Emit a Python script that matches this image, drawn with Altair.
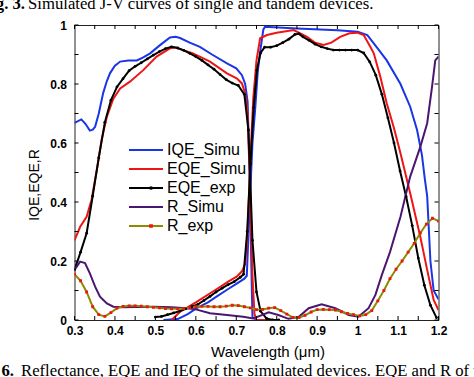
import altair as alt
import pandas as pd

# ---------------- data ----------------
series_names = ["IQE_Simu", "EQE_Simu", "EQE_exp", "R_Simu", "R_exp"]
line_colors = ["#1a35e6", "#f01414", "#000000", "#4b1670", "#8c8c00"]
marker_keys = ["m1", "m2", "m3", "m4", "m5"]
marker_fill = ["transparent", "transparent", "#000000", "transparent", "#f01414"]
marker_shape = ["circle", "circle", "circle", "circle", "square"]

iqe_top_x = [0.300, 0.317, 0.327, 0.338, 0.345, 0.351, 0.360, 0.371, 0.380, 0.388, 0.400, 0.413, 0.433,
             0.454, 0.470, 0.487, 0.510, 0.536, 0.550, 0.561, 0.585, 0.610, 0.640, 0.677, 0.700, 0.714,
             0.722, 0.728, 0.733, 0.737, 0.740, 0.750, 0.800]
iqe_top_y = [0.668, 0.680, 0.665, 0.642, 0.645, 0.655, 0.700, 0.770, 0.810, 0.837, 0.862, 0.876, 0.880,
             0.880, 0.890, 0.904, 0.930, 0.958, 0.960, 0.956, 0.940, 0.926, 0.900, 0.870, 0.853, 0.830,
             0.800, 0.740, 0.500, 0.200, 0.010, 0.000, 0.000]
iqe_bot_x = [0.520, 0.555, 0.580, 0.602, 0.630, 0.652, 0.680, 0.703, 0.720, 0.726, 0.732, 0.740, 0.747,
             0.753, 0.759, 0.767, 0.771, 0.850, 0.950, 1.000, 1.024, 1.040, 1.072, 1.106, 1.130, 1.147,
             1.159, 1.166, 1.172, 1.180, 1.188, 1.200]
iqe_bot_y = [0.000, 0.003, 0.020, 0.040, 0.060, 0.080, 0.105, 0.125, 0.140, 0.150, 0.350, 0.600, 0.720,
             0.840, 0.910, 0.985, 0.994, 0.988, 0.982, 0.977, 0.966, 0.938, 0.880, 0.800, 0.723, 0.644,
             0.560, 0.480, 0.420, 0.200, 0.100, 0.070]

eqs_top_x = [0.300, 0.314, 0.330, 0.342, 0.355, 0.367, 0.380, 0.396, 0.413, 0.437, 0.470, 0.503, 0.536,
             0.550, 0.569, 0.593, 0.635, 0.677, 0.701, 0.714, 0.722, 0.728, 0.734, 0.740, 0.745, 0.750, 0.800]
eqs_top_y = [0.270, 0.316, 0.350, 0.407, 0.508, 0.610, 0.689, 0.750, 0.785, 0.808, 0.847, 0.893, 0.921,
             0.924, 0.915, 0.904, 0.876, 0.836, 0.819, 0.802, 0.768, 0.700, 0.450, 0.150, 0.020, 0.000, 0.000]
eqs_bot_x = [0.540, 0.561, 0.600, 0.652, 0.680, 0.701, 0.714, 0.722, 0.728, 0.735, 0.742, 0.750, 0.759,
             0.776, 0.800, 0.842, 0.875, 0.895, 0.916, 0.935, 0.957, 0.980, 0.999, 1.015, 1.031, 1.040,
             1.056, 1.072, 1.090, 1.106, 1.130, 1.155, 1.172, 1.188, 1.200]
eqs_bot_y = [0.000, 0.028, 0.060, 0.105, 0.130, 0.147, 0.165, 0.190, 0.300, 0.550, 0.750, 0.880, 0.955,
             0.966, 0.974, 0.983, 0.960, 0.940, 0.932, 0.940, 0.960, 0.972, 0.974, 0.966, 0.927, 0.904,
             0.825, 0.735, 0.650, 0.565, 0.430, 0.282, 0.170, 0.068, 0.034]

eqx_top_x = [0.300, 0.315, 0.330, 0.345, 0.360, 0.375, 0.390, 0.405, 0.420, 0.435, 0.450, 0.465, 0.480,
             0.495, 0.510, 0.525, 0.540, 0.555, 0.570, 0.585, 0.600, 0.615, 0.630, 0.645, 0.660, 0.675,
             0.690, 0.705, 0.720, 0.730, 0.740, 0.750, 0.760, 0.775, 0.790, 0.805]
eqx_top_y = [0.170, 0.230, 0.294, 0.420, 0.550, 0.670, 0.745, 0.790, 0.818, 0.845, 0.860, 0.872, 0.885,
             0.898, 0.910, 0.920, 0.926, 0.922, 0.914, 0.904, 0.893, 0.880, 0.865, 0.850, 0.832, 0.815,
             0.803, 0.795, 0.765, 0.644, 0.270, 0.095, 0.030, 0.005, 0.000, 0.000]
eqx_bot_x = [0.500, 0.515, 0.530, 0.545, 0.560, 0.575, 0.590, 0.605, 0.620, 0.635, 0.650, 0.665, 0.680,
             0.695, 0.710, 0.718, 0.727, 0.735, 0.743, 0.751, 0.760, 0.770, 0.785, 0.800, 0.815, 0.830,
             0.845, 0.855, 0.865, 0.880, 0.895, 0.910, 0.925, 0.940, 0.955, 0.970, 0.985, 1.000, 1.015,
             1.030, 1.045, 1.060, 1.075, 1.090, 1.105, 1.120, 1.135, 1.150, 1.165, 1.180, 1.195]
eqx_bot_y = [0.010, 0.012, 0.018, 0.024, 0.030, 0.038, 0.045, 0.053, 0.066, 0.080, 0.095, 0.108, 0.120,
             0.130, 0.145, 0.155, 0.300, 0.530, 0.720, 0.847, 0.905, 0.925, 0.925, 0.930, 0.940, 0.952,
             0.968, 0.970, 0.960, 0.948, 0.935, 0.926, 0.920, 0.915, 0.915, 0.915, 0.915, 0.915, 0.905,
             0.875, 0.830, 0.765, 0.685, 0.600, 0.505, 0.418, 0.320, 0.210, 0.118, 0.050, 0.008]

rs_x = [0.300, 0.314, 0.326, 0.338, 0.351, 0.363, 0.380, 0.396, 0.420, 0.450, 0.494, 0.540, 0.577,
        0.600, 0.635, 0.677, 0.717, 0.742, 0.760, 0.780, 0.804, 0.829, 0.854, 0.879, 0.911, 0.945,
        0.978, 1.002, 1.027, 1.044, 1.060, 1.080, 1.106, 1.130, 1.155, 1.172, 1.184, 1.192, 1.200]
rs_y = [0.170, 0.198, 0.193, 0.158, 0.113, 0.079, 0.056, 0.045, 0.043, 0.044, 0.045, 0.043, 0.040,
        0.036, 0.023, 0.017, 0.011, 0.005, 0.015, 0.026, 0.017, 0.004, 0.010, 0.040, 0.053, 0.040,
        0.017, 0.011, 0.040, 0.085, 0.153, 0.230, 0.350, 0.486, 0.587, 0.667, 0.790, 0.880, 0.893]

rx_x = [0.300, 0.315, 0.330, 0.345, 0.360, 0.375, 0.390, 0.405, 0.420, 0.435, 0.450, 0.465, 0.480,
        0.495, 0.510, 0.525, 0.540, 0.555, 0.570, 0.585, 0.600, 0.615, 0.630, 0.645, 0.660, 0.675,
        0.690, 0.705, 0.720, 0.735, 0.750, 0.765, 0.780, 0.795, 0.810, 0.825, 0.840, 0.855, 0.870,
        0.885, 0.900, 0.915, 0.930, 0.945, 0.960, 0.975, 0.990, 1.005, 1.020, 1.035, 1.050, 1.065,
        1.080, 1.095, 1.110, 1.125, 1.140, 1.155, 1.170, 1.185, 1.200]
rx_y = [0.155, 0.133, 0.095, 0.045, 0.018, 0.012, 0.025, 0.040, 0.046, 0.048, 0.048, 0.047, 0.045,
        0.043, 0.041, 0.039, 0.038, 0.038, 0.039, 0.042, 0.045, 0.046, 0.046, 0.045, 0.045, 0.047,
        0.050, 0.049, 0.045, 0.041, 0.035, 0.036, 0.040, 0.042, 0.032, 0.020, 0.009, 0.008, 0.016,
        0.027, 0.035, 0.036, 0.035, 0.034, 0.028, 0.022, 0.018, 0.014, 0.018, 0.032, 0.065, 0.100,
        0.140, 0.172, 0.200, 0.230, 0.260, 0.295, 0.325, 0.345, 0.335]

x_label_values = [0.3, 0.4, 0.5, 0.6, 0.7, 0.8, 0.9, 1.0, 1.1, 1.2]
y_label_values = [0.0, 0.2, 0.4, 0.6, 0.8, 1.0]
x_tick_values = [0.30, 0.35, 0.40, 0.45, 0.50, 0.55, 0.60, 0.65, 0.70, 0.75, 0.80, 0.85, 0.90, 0.95,
                 1.00, 1.05, 1.10, 1.15, 1.20]
y_tick_values = [0.0, 0.1, 0.2, 0.3, 0.4, 0.5, 0.6, 0.7, 0.8, 0.9, 1.0]

x_title = "Wavelength (μm)"
y_title = "IQE,EQE,R"
top_caption = ["Fig. 3.", "Simulated J-V curves of single and tandem devices."]
bottom_caption = ["Fig. 6.", "Reflectance, EQE and IEQ of the simulated devices. EQE and R of the"]

# ---------------- table ----------------
segments = [
    ("IQE_Simu", "top", iqe_top_x, iqe_top_y),
    ("IQE_Simu", "bot", iqe_bot_x, iqe_bot_y),
    ("EQE_Simu", "top", eqs_top_x, eqs_top_y),
    ("EQE_Simu", "bot", eqs_bot_x, eqs_bot_y),
    ("EQE_exp", "top", eqx_top_x, eqx_top_y),
    ("EQE_exp", "bot", eqx_bot_x, eqx_bot_y),
    ("R_Simu", "all", rs_x, rs_y),
    ("R_exp", "all", rx_x, rx_y),
]
rows = []
for s, seg, xs_, ys_ in segments:
    for i, (a, b) in enumerate(zip(xs_, ys_)):
        rows.append({"series": s, "seg": s + "_" + seg, "i": i, "x": a, "y": b,
                     "mk": marker_keys[series_names.index(s)]})
df = pd.DataFrame(rows)
df_pts = df[df["series"].isin(["EQE_exp", "R_exp"])]

W, H = 364, 295
xscale = alt.Scale(domain=[0.3, 1.2], nice=False, zero=False)
yscale = alt.Scale(domain=[0, 1], nice=False, zero=False)

x_axis = alt.Axis(values=x_label_values, format=".1~f", labelFont="Liberation Sans",
                  labelFontWeight="bold", labelFontSize=12, labelColor="black", labelPadding=5,
                  labelFlush=False, ticks=False, domain=False, grid=False,
                  title=x_title, titleFont="Liberation Sans", titleFontWeight="normal",
                  titleFontSize=15, titleColor="black", titleX=193, titleY=36,
                  titleBaseline="alphabetic", titleAlign="center")
y_axis = alt.Axis(values=y_label_values, format=".1~f", labelFont="Liberation Sans",
                  labelFontWeight="bold", labelFontSize=12, labelColor="black", labelPadding=8,
                  labelFlush=False, ticks=False, domain=False, grid=False,
                  title=y_title, titleFont="Liberation Sans", titleFontWeight="normal",
                  titleFontSize=14, titleColor="black", titleX=-36.5, titleY=159.5,
                  titleBaseline="alphabetic", titleAlign="center")

legend_x, legend_y = 53.5, 115.5
line_legend = alt.Legend(title=None, orient="none", legendX=legend_x, legendY=legend_y,
                         symbolType="stroke", symbolSize=1156, symbolStrokeWidth=2,
                         labelFont="Liberation Sans", labelFontSize=16, labelColor="black",
                         labelOffset=3, clipHeight=19, rowPadding=0, padding=0)
marker_legend = alt.Legend(title=None, orient="none", legendX=legend_x + 15, legendY=legend_y,
                           symbolSize=14, symbolStrokeWidth=0, symbolStrokeColor="transparent",
                           labelExpr="''", labelFontSize=16,
                           labelOffset=0, clipHeight=19, rowPadding=0, padding=0)

lines = alt.Chart(df).mark_line(clip=True).encode(
    x=alt.X("x:Q", scale=xscale, axis=x_axis),
    y=alt.Y("y:Q", scale=yscale, axis=y_axis),
    color=alt.Color("series:N", scale=alt.Scale(domain=series_names, range=line_colors),
                    legend=line_legend),
    strokeWidth=alt.StrokeWidth("series:N", scale=alt.Scale(domain=series_names,
                                range=[2, 2, 1.8, 2, 1.5]), legend=None),
    detail="seg:N",
    order="i:Q",
)

points = alt.Chart(df_pts).mark_point(filled=True, clip=True, opacity=1, strokeWidth=0).encode(
    x=alt.X("x:Q", scale=xscale),
    y=alt.Y("y:Q", scale=yscale),
    fill=alt.Fill("mk:N", scale=alt.Scale(domain=marker_keys, range=marker_fill), legend=marker_legend),
    shape=alt.Shape("mk:N", scale=alt.Scale(domain=marker_keys, range=marker_shape), legend=marker_legend),
    size=alt.Size("mk:N", scale=alt.Scale(domain=marker_keys, range=[8, 8, 8, 8, 14]), legend=None),
)

xt = pd.DataFrame({"t": x_tick_values})
yt = pd.DataFrame({"t": y_tick_values})
tick_len = 4
ticks_bottom = alt.Chart(xt).mark_rule(color="black", strokeWidth=1).encode(
    x=alt.X("t:Q", scale=xscale), y=alt.value(H), y2=alt.value(H - tick_len))
ticks_top = alt.Chart(xt).mark_rule(color="black", strokeWidth=1).encode(
    x=alt.X("t:Q", scale=xscale), y=alt.value(0), y2=alt.value(tick_len))
ticks_left = alt.Chart(yt).mark_rule(color="black", strokeWidth=1).encode(
    y=alt.Y("t:Q", scale=yscale), x=alt.value(0), x2=alt.value(tick_len))
ticks_right = alt.Chart(yt).mark_rule(color="black", strokeWidth=1).encode(
    y=alt.Y("t:Q", scale=yscale), x=alt.value(W), x2=alt.value(W - tick_len))

def caption(texts, xb, xr, yb):
    bold = alt.Chart(pd.DataFrame({"t": [texts[0]]})).mark_text(
        font="Liberation Serif", fontSize=16.7, fontWeight="bold", align="right",
        baseline="alphabetic", color="black").encode(x=alt.value(xb), y=alt.value(yb), text="t:N")
    rest = alt.Chart(pd.DataFrame({"t": [texts[1]]})).mark_text(
        font="Liberation Serif", fontSize=16.7, align="left",
        baseline="alphabetic", color="black").encode(x=alt.value(xr), y=alt.value(yb), text="t:N")
    return [bold, rest]

caps = caption(top_caption, 25 - 74.5, 28 - 74.5, 8.5 - 25) + \
       caption(bottom_caption, 14 - 74.5, 21 - 74.5, 376 - 25)

chart = alt.layer(lines, points, ticks_bottom, ticks_top, ticks_left, ticks_right, *caps).resolve_legend(
    color="independent", fill="independent", shape="independent"
).properties(
    width=W, height=H,
    padding={"left": 74.5, "top": 25, "right": 35.5, "bottom": 57},
    autosize=alt.AutoSizeParams(type="none"),
    background="white",
).configure_view(stroke="#222222", strokeWidth=1)

chart.save("out.html", embed_options={"renderer": "svg", "actions": False})
